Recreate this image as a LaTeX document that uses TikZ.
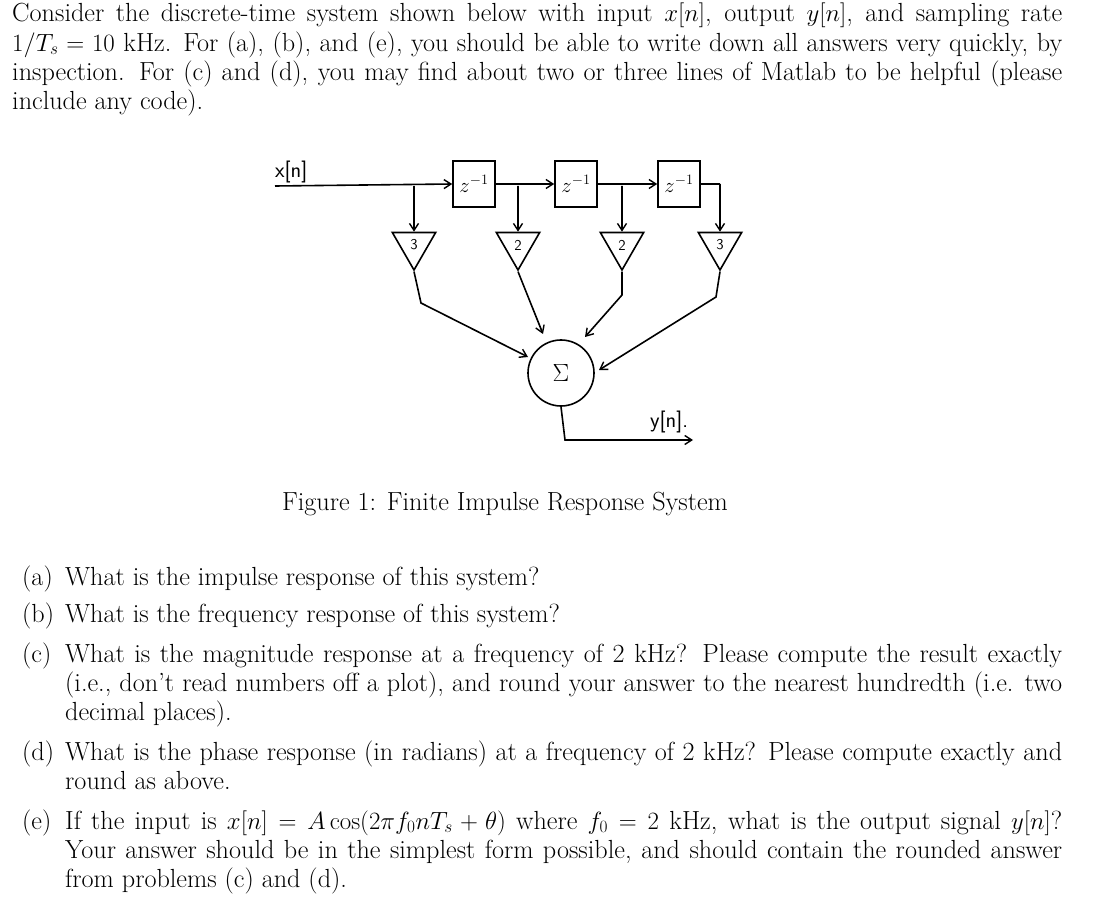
\documentclass[tikz,border=0pt]{standalone}
\usetikzlibrary{arrows.meta,shapes.geometric}
\begin{document}
\begin{tikzpicture}[x=1pt,y=-1pt,
  para/.style={anchor=base west,inner sep=0,align=justify,font=\fontsize{26.2}{29.2}\selectfont},
  lbl/.style={anchor=base west,inner sep=0,font=\fontsize{26.2}{29.2}\selectfont},
  wire/.style={line width=1.6pt},
  arr/.style={wire,-{Straight Barb[length=7pt,width=9pt,line width=1.4pt]}},
  delay/.style={draw,line width=1.6pt,minimum width=42pt,minimum height=46pt,inner sep=0,font=\fontsize{22}{22}\selectfont},
  gain/.style={draw,line width=1.6pt,regular polygon,regular polygon sides=3,shape border rotate=180,minimum size=50pt,inner sep=0,font=\sffamily\fontsize{15}{15}\selectfont},
  hand/.style={font=\sffamily\fontsize{22}{22}\selectfont,inner sep=0}]
\useasboundingbox (0,0) rectangle (1098,901);
\node[para,text width=1050pt] (intro) at (12,22) {Consider the discrete-time system shown below with input $x[n]$, output $y[n]$, and sampling rate $1/T_s = 10$ kHz. For (a), (b), and (e), you should be able to write down all answers very quickly, by inspection. For (c) and (d), you may find about two or three lines of Matlab to be helpful (please include any code).};
% diagram
\coordinate (in) at (275,186);
\node[hand,anchor=base west] (xn) at (275,178) {x[n]};
\node[delay] (d1) at (474,184) {$z^{-1}$};
\node[delay] (d2) at (576,184) {$z^{-1}$};
\node[delay] (d3) at (679,184) {$z^{-1}$};
\coordinate (t0) at (414,186);
\coordinate (t1) at (518,186);
\coordinate (t2) at (622,186);
\coordinate (t3) at (720,184);
\node[gain] (g0) at (414,245) {3};
\node[gain] (g1) at (518,245) {2};
\node[gain] (g2) at (622,245) {2};
\node[gain] (g3) at (720,245) {3};
\node[draw,circle,line width=1.6pt,minimum size=66pt,inner sep=0,font=\fontsize{34}{34}\selectfont] (sum) at (561,373) {$\Sigma$};
\draw[arr] (in) -- (d1.west);
\draw[arr] (d1.east) -- (d2.west);
\draw[arr] (d2.east) -- (d3.west);
\draw[wire] (d3.east) -- (t3);
\draw[arr] (t0) -- (g0.north);
\draw[arr] (t1) -- (g1.north);
\draw[arr] (t2) -- (g2.north);
\draw[arr] (t3) -- (g3.north);
\draw[arr] (g0.south) -- (421,303) -- (528,357);
\draw[arr] (g1.south) -- (543,334);
\draw[arr] (g2.south) -- (622,295) -- (585,337);
\draw[arr] (g3.south) -- (716,297) -- (599,370);
\coordinate (out) at (693,440);
\draw[arr] (sum.south) -- (565,440) -- (out);
\node[hand,anchor=base west] (yn) at (650,427) {y[n].};
\node[lbl,anchor=base] (cap) at (505,510) {Figure 1: Finite Impulse Response System};
% questions
\node[lbl] (la) at (22,585) {(a)};
\node[para,text width=997pt] (qa) at (65,585) {What is the impulse response of this system?};
\node[lbl] (lb) at (22,622) {(b)};
\node[para,text width=997pt] (qb) at (65,622) {What is the frequency response of this system?};
\node[lbl] (lc) at (22,662) {(c)};
\node[para,text width=997pt] (qc) at (65,662) {What is the magnitude response at a frequency of 2 kHz? Please compute the result exactly (i.e., don't read numbers off a plot), and round your answer to the nearest hundredth (i.e. two decimal places).};
\node[lbl] (ld) at (22,760) {(d)};
\node[para,text width=997pt] (qd) at (65,760) {What is the phase response (in radians) at a frequency of 2 kHz? Please compute exactly and round as above.};
\node[lbl] (le) at (22,829) {(e)};
\node[para,text width=997pt] (qe) at (65,829) {If the input is $x[n] = A\cos(2\pi f_0 n T_s + \theta)$ where $f_0 = 2$ kHz, what is the output signal $y[n]$? Your answer should be in the simplest form possible, and should contain the rounded answer\linebreak from problems (c) and (d).};
\end{tikzpicture}
\end{document}
